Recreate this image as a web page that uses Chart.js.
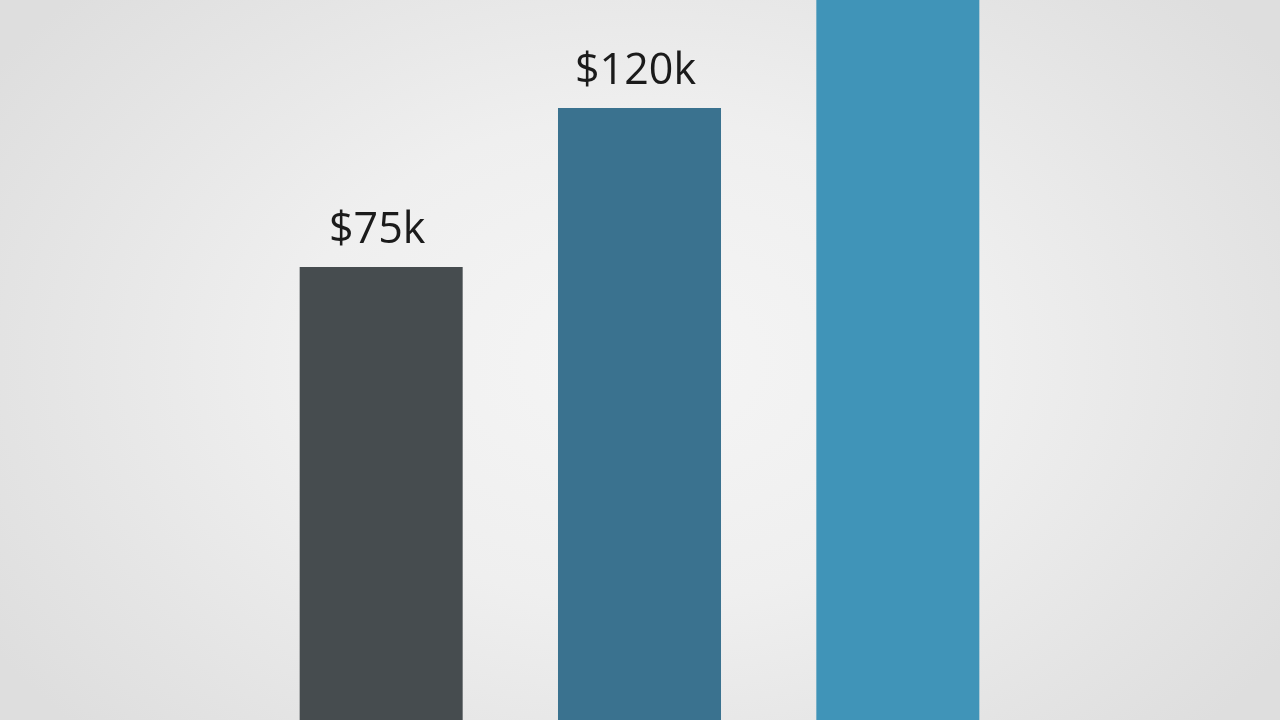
<!DOCTYPE html>
<html lang="en">
<head>
  <meta charset="UTF-8">
  <title>Revenue bars</title>
  <style>
    html, body { margin: 0; padding: 0; }
    body {
      width: 1280px; height: 720px; overflow: hidden;
      background: radial-gradient(ellipse 60% 75% at 50% 50%, #f5f5f5 0%, #efefef 45%, #e4e4e4 80%, #dedede 100%);
    }
    .chart-wrap { position: relative; width: 1280px; height: 720px; }
  </style>
  <script src="https://cdn.jsdelivr.net/npm/chart.js"></script>
</head>
<body>
  <div class="chart-wrap">
    <canvas id="barChart"></canvas>
  </div>
  <script>
    // --- data
    const categories = ['A', 'B', 'C'];
    const values = [75, 120, 160];              // in $k, third bar runs off the top
    const valueLabels = ['$75k', '$120k', '$160k'];
    const barColors = ['#464c4f', '#3a728f', '#4094b8'];

    // value axis bounds so that bars run off the bottom edge
    const yMin = -53.2;
    const yMax = 150.6;

    // draw the value labels above each bar
    const valueLabelPlugin = {
      id: 'valueLabels',
      afterDatasetsDraw(chart) {
        const ctx = chart.ctx;
        const meta = chart.getDatasetMeta(0);
        ctx.save();
        ctx.font = '43px "Open Sans", "Noto Sans", sans-serif';
        ctx.fillStyle = '#1b1b1b';
        ctx.textAlign = 'center';
        ctx.textBaseline = 'alphabetic';
        meta.data.forEach((bar, i) => {
          ctx.fillText(valueLabels[i], bar.x - 4, bar.y - 24);
        });
        ctx.restore();
      }
    };

    const ctx = document.getElementById('barChart').getContext('2d');
    new Chart(ctx, {
      type: 'bar',
      data: {
        labels: categories,
        datasets: [{
          data: values,
          base: yMin,
          backgroundColor: barColors,
          borderWidth: 0,
          categoryPercentage: 1,
          barPercentage: 0.631
        }]
      },
      options: {
        responsive: true,
        maintainAspectRatio: false,
        animation: false,
        layout: { padding: { left: 252, right: 253, top: 0, bottom: 0 } },
        plugins: {
          legend: { display: false },
          title: { display: false },
          tooltip: { enabled: false }
        },
        scales: {
          x: { display: false },
          y: { display: false, min: yMin, max: yMax }
        }
      },
      plugins: [valueLabelPlugin]
    });
  </script>
</body>
</html>
